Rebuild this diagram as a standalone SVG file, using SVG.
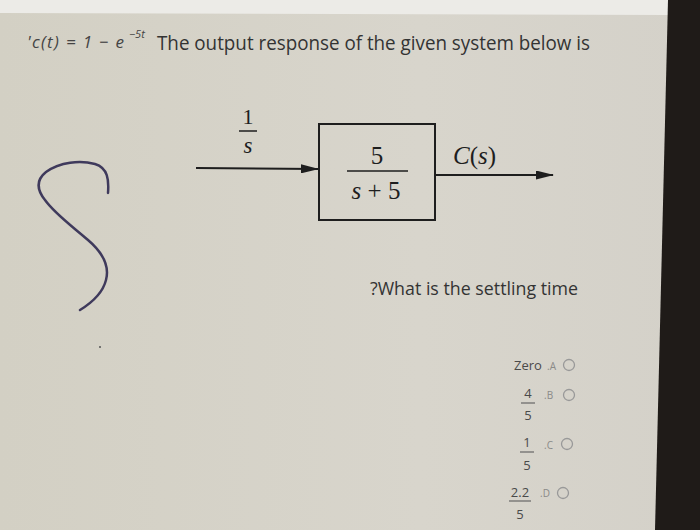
<svg xmlns="http://www.w3.org/2000/svg" width="700" height="530" viewBox="0 0 700 530">
<defs>
<linearGradient id="bg" x1="0" y1="0" x2="1" y2="0">
<stop offset="0" stop-color="#d3d0c4"/>
<stop offset="0.6" stop-color="#d8d5cc"/>
<stop offset="1" stop-color="#d4d1c9"/>
</linearGradient>
<marker id="ah" markerWidth="18" markerHeight="9" refX="17" refY="4.5" orient="auto" markerUnits="userSpaceOnUse">
<path d="M0,0 L18,4.5 L0,9 Z" fill="#1e1e1e"/>
</marker>
<style>
.serif{font-family:"Liberation Serif","Times New Roman",serif;fill:#1e1e1e}
.sans{font-family:"Open Sans","Noto Sans","Liberation Sans",sans-serif}
.opt{font-family:"Open Sans","Noto Sans","Liberation Sans",sans-serif;font-size:13px;fill:#4a4a4a}
.lbl{font-family:"Open Sans","Noto Sans","Liberation Sans",sans-serif;font-size:10px;fill:#8a8a88}
.radio{fill:none;stroke:#999;stroke-width:1.3}
.bar{stroke:#1e1e1e;stroke-width:1.5}
.obar{stroke:#666;stroke-width:1.2}
</style>
</defs>
<rect width="700" height="530" fill="url(#bg)"/>
<polygon points="0,0 668,0 668,15 0,13" fill="#ecebe7"/>
<polygon points="668,0 700,0 700,530 655,530" fill="#1f1b18"/>

<g id="title">
<text x="27" y="48" class="sans" font-size="17" font-style="italic" fill="#444" textLength="97" lengthAdjust="spacing">'c(t) = 1 − e</text>
<text x="129" y="38" class="sans" font-size="11" font-style="italic" fill="#444">−5t</text>
<text x="157" y="50" class="sans" font-size="19.5" fill="#333" textLength="433" lengthAdjust="spacingAndGlyphs">The output response of the given system below is</text>
</g>

<g id="connectors">
<line x1="196" y1="168" x2="318" y2="169" stroke="#1e1e1e" stroke-width="1.8" marker-end="url(#ah)"/>
<line x1="436" y1="175" x2="553" y2="175" stroke="#1e1e1e" stroke-width="1.8" marker-end="url(#ah)"/>
</g>

<g id="input-label">
<text x="248" y="124" class="serif" font-size="22" text-anchor="middle">1</text>
<line x1="239" y1="131" x2="257" y2="131" class="bar"/>
<text x="248" y="153" class="serif" font-size="23" font-style="italic" text-anchor="middle">s</text>
</g>

<g id="block">
<rect x="319" y="124" width="116" height="96" fill="none" stroke="#1e1e1e" stroke-width="2"/>
<text x="377" y="164" class="serif" font-size="25" text-anchor="middle">5</text>
<line x1="347" y1="171" x2="408" y2="171" class="bar"/>
<text x="376" y="199" class="serif" font-size="25" text-anchor="middle"><tspan font-style="italic">s</tspan> + 5</text>
</g>

<g id="output-label">
<text x="453" y="164" class="serif" font-size="25"><tspan font-style="italic">C</tspan>(<tspan font-style="italic">s</tspan>)</text>
</g>

<g id="question">
<text x="370" y="295" class="sans" font-size="17.5" fill="#333" textLength="208" lengthAdjust="spacingAndGlyphs">?What is the settling time</text>
</g>

<g id="optA">
<text x="514" y="370" class="opt">Zero</text>
<text x="547" y="370" class="lbl">.A</text>
<circle cx="569" cy="365" r="5.5" class="radio"/>
</g>
<g id="optB">
<text x="528" y="398" class="opt" text-anchor="middle">4</text>
<line x1="521" y1="403" x2="535" y2="403" class="obar"/>
<text x="528" y="420" class="opt" text-anchor="middle">5</text>
<text x="544" y="399" class="lbl">.B</text>
<circle cx="569" cy="395" r="5.5" class="radio"/>
</g>
<g id="optC">
<text x="527" y="447" class="opt" text-anchor="middle">1</text>
<line x1="520" y1="452" x2="534" y2="452" class="obar"/>
<text x="527" y="470" class="opt" text-anchor="middle">5</text>
<text x="544" y="449" class="lbl">.C</text>
<circle cx="567" cy="444" r="5.5" class="radio"/>
</g>
<g id="optD">
<text x="520" y="497" class="opt" text-anchor="middle">2.2</text>
<line x1="509" y1="501" x2="531" y2="501" class="obar"/>
<text x="520" y="519" class="opt" text-anchor="middle">5</text>
<text x="540" y="497" class="lbl">.D</text>
<circle cx="563" cy="493" r="5.5" class="radio"/>
</g>

<g id="scribble">
<path d="M108,193 C109,180 108,168 95,164 C80,160 60,162 46,172 C36,180 37,190 45,200 C55,214 72,226 88,240 C102,252 110,265 106,280 C103,292 93,302 80,310" fill="none" stroke="#3f3a5c" stroke-width="2.5" stroke-linecap="round"/>
<circle cx="100" cy="347" r="1" fill="#555"/>
</g>
</svg>
